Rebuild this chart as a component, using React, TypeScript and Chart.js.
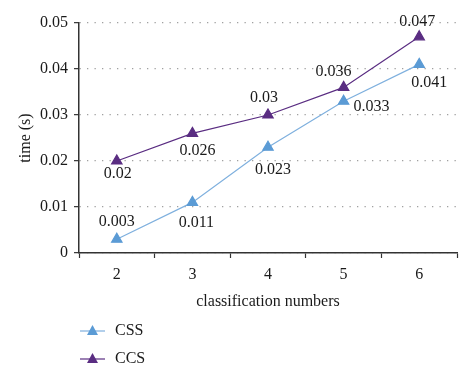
import React, { useEffect, useRef } from "react";
import { Chart, registerables } from "chart.js";

Chart.register(...registerables);

const categories = ["2", "3", "4", "5", "6"];
const cssValues = [0.003, 0.011, 0.023, 0.033, 0.041];
const ccsValues = [0.02, 0.026, 0.03, 0.036, 0.047];
const cssLabels = ["0.003", "0.011", "0.023", "0.033", "0.041"];
const ccsLabels = ["0.02", "0.026", "0.03", "0.036", "0.047"];
const yTicks = [0, 0.01, 0.02, 0.03, 0.04, 0.05];

// label placement (style)
const cssLabelOffsets = [[0, -17], [4, 20], [5, 23], [28, 6], [10, 18]];
const ccsLabelOffsets = [[1, 13], [5, 17], [-4, -17], [-10, -16], [-2, -15]];

const FONT = "'Liberation Serif', 'DejaVu Serif', serif";
const CSS_COLOR = "#5b9bd5";
const CSS_LINE = "#7fb0de";
const CCS_COLOR = "#5a2d82";

const labelPlugin = {
  id: "pointLabels",
  afterDatasetsDraw(chart: any) {
    const ctx = chart.ctx;
    ctx.save();
    ctx.font = `16px ${FONT}`;
    ctx.fillStyle = "#1a1a1a";
    ctx.textAlign = "center";
    ctx.textBaseline = "middle";
    const sets = [
      { labels: cssLabels, offs: cssLabelOffsets },
      { labels: ccsLabels, offs: ccsLabelOffsets },
    ];
    sets.forEach((s, di) => {
      const meta = chart.getDatasetMeta(di);
      meta.data.forEach((pt: any, i: number) => {
        ctx.fillText(s.labels[i], pt.x + s.offs[i][0], pt.y + s.offs[i][1]);
      });
    });
    ctx.restore();
  },
};

const legendPlugin = {
  id: "customLegend",
  afterDraw(chart: any) {
    const ctx = chart.ctx;
    const items = [
      { text: "CSS", line: CSS_LINE, fill: CSS_COLOR, y: 331 },
      { text: "CCS", line: CCS_COLOR, fill: CCS_COLOR, y: 359 },
    ];
    ctx.save();
    items.forEach((it) => {
      ctx.strokeStyle = it.line;
      ctx.lineWidth = 1.2;
      ctx.beginPath();
      ctx.moveTo(80, it.y);
      ctx.lineTo(105, it.y);
      ctx.stroke();
      ctx.fillStyle = it.fill;
      ctx.beginPath();
      ctx.moveTo(92.5, it.y - 6);
      ctx.lineTo(98, it.y + 4);
      ctx.lineTo(87, it.y + 4);
      ctx.closePath();
      ctx.fill();
      ctx.fillStyle = "#1a1a1a";
      ctx.font = `16px ${FONT}`;
      ctx.textAlign = "left";
      ctx.textBaseline = "middle";
      ctx.fillText(it.text, 115, it.y);
    });
    ctx.restore();
  },
};

export default function App() {
  const ref = useRef<HTMLCanvasElement>(null);
  useEffect(() => {
    if (!ref.current) return;
    const chart = new Chart(ref.current, {
      type: "line",
      data: {
        labels: categories,
        datasets: [
          {
            label: "CSS",
            data: cssValues,
            borderColor: CSS_LINE,
            backgroundColor: CSS_COLOR,
            pointBackgroundColor: CSS_COLOR,
            pointBorderColor: CSS_COLOR,
            pointStyle: "triangle",
            pointRadius: 6,
            borderWidth: 1.2,
            tension: 0,
          },
          {
            label: "CCS",
            data: ccsValues,
            borderColor: CCS_COLOR,
            backgroundColor: CCS_COLOR,
            pointBackgroundColor: CCS_COLOR,
            pointBorderColor: CCS_COLOR,
            pointStyle: "triangle",
            pointRadius: 6,
            borderWidth: 1.2,
            tension: 0,
          },
        ],
      },
      options: {
        responsive: false,
        animation: false,
        layout: { padding: { top: 23, right: 17, left: 0, bottom: 70 } },
        plugins: {
          legend: { display: false },
          tooltip: { enabled: false },
        },
        scales: {
          x: {
            type: "category",
            offset: true,
            grid: {
              offset: true,
              drawOnChartArea: false,
              drawTicks: true,
              tickLength: 5,
              tickColor: "#333",
              tickWidth: 1.2,
            },
            border: { color: "#333", width: 1.5 },
            ticks: {
              color: "#1a1a1a",
              font: { family: FONT, size: 16 },
              padding: 7,
              maxRotation: 0,
            },
            title: {
              display: true,
              text: "classification numbers",
              color: "#1a1a1a",
              font: { family: FONT, size: 16 },
              padding: { top: 4, bottom: 1 },
            },
            afterFit: (s: any) => {
              s.height = 59;
            },
          },
          y: {
            min: 0,
            max: 0.05,
            afterBuildTicks: (s: any) => {
              s.ticks = yTicks.map((v) => ({ value: v }));
            },
            grid: {
              color: "#a0a0a0",
              lineWidth: 1.3,
              tickLength: 5,
              tickColor: "#333",
              tickWidth: 1.2,
              tickBorderDash: [],
            },
            border: { color: "#333", width: 1.5, dash: [1.3, 6.2] },
            ticks: {
              color: "#1a1a1a",
              font: { family: FONT, size: 16 },
              padding: 6,
              callback: (v: any) => String(Number(v)),
            },
            title: {
              display: true,
              text: "time (s)",
              color: "#1a1a1a",
              font: { family: FONT, size: 16 },
              padding: { top: 16, bottom: 4 },
            },
            afterFit: (s: any) => {
              s.width = 79;
            },
          },
        },
      },
      plugins: [labelPlugin, legendPlugin],
    } as any);
    return () => chart.destroy();
  }, []);
  return (
    <div style={{ position: "fixed", left: 0, top: 0, width: 474, height: 382, background: "#fff" }}>
      <canvas ref={ref} width={474} height={382} />
    </div>
  );
}
